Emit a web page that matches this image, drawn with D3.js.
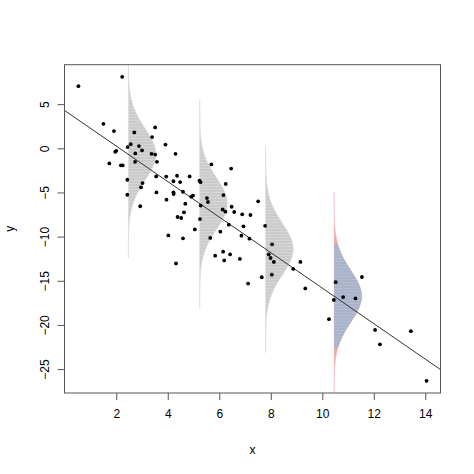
<!DOCTYPE html>
<html>
<head>
<meta charset="utf-8">
<script src="https://cdn.jsdelivr.net/npm/d3@7"></script>
<style>
  html, body { margin: 0; padding: 0; background: #fff; }
  svg { display: block; font-family: "Liberation Sans", Arial, sans-serif; }
</style>
</head>
<body>
<svg id="chart" width="474" height="474"></svg>
<script>
// ---- data ----
const pointX = [0.53,2.23,1.50,1.91,2.00,1.96,1.73,2.18,2.25,2.44,2.56,2.70,2.88,3.00,2.74,2.73,3.51,3.39,3.37,3.51,3.58,2.43,2.43,3.02,2.96,2.93,3.91,4.30,3.55,3.56,3.94,4.36,4.22,4.48,4.85,4.22,4.23,4.59,4.91,4.98,3.95,4.68,4.38,4.52,4.63,5.05,4.02,4.59,4.32,5.23,5.27,5.69,6.46,5.52,5.56,5.28,5.25,6.25,6.16,6.13,6.24,6.48,6.58,6.89,7.21,7.51,6.37,6.94,6.04,5.65,6.86,7.17,5.84,6.15,6.42,6.19,6.80,7.12,7.78,7.65,8.05,7.92,7.99,8.12,8.04,8.87,9.15,9.34,10.26,10.52,10.45,10.81,11.29,11.54,12.05,12.24,13.44,14.05];
const pointY = [7.03,8.09,2.77,1.95,-0.28,-0.40,-1.71,-1.93,-1.93,0.14,0.47,1.80,0.25,-0.24,-0.58,-1.53,2.36,1.27,-0.62,-0.71,-1.53,-3.56,-5.26,-3.94,-4.42,-6.56,0.42,-0.62,-3.18,-4.99,-3.20,-3.11,-3.73,-3.82,-3.18,-4.98,-5.18,-4.92,-5.48,-5.35,-5.82,-6.28,-7.78,-7.89,-7.25,-9.19,-9.87,-10.19,-13.04,-3.65,-3.84,-1.82,-2.30,-5.63,-6.08,-6.48,-8.01,-4.03,-5.29,-6.93,-7.18,-6.62,-7.21,-7.47,-7.55,-6.00,-8.65,-8.83,-9.44,-10.15,-9.89,-10.23,-12.16,-11.70,-12.02,-12.70,-12.53,-15.32,-8.78,-14.60,-10.87,-12.02,-12.42,-12.87,-14.31,-13.66,-12.87,-15.87,-19.35,-15.16,-17.17,-16.85,-17.00,-14.57,-20.56,-22.20,-20.71,-26.33];
const lineIntercept = 4.27;
const lineSlope = -2.01;
const residualSD = 2.94;
const densityX = [2.47, 5.24, 7.80, 10.46];
const densityKind = ["gray", "gray", "gray", "highlight"];
const densityPeakWidth = 1.07;   // x units at the density peak
const xTicks = [2, 4, 6, 8, 10, 12, 14];
const yTicks = [5, 0, -5, -10, -15, -20, -25];
const xLabel = "x";
const yLabel = "y";

// ---- layout ----
const W = 474, H = 474;
const plot = { left: 64.5, right: 440.5, top: 64.7, bottom: 393 };

function padded(ext) {
  const r = ext[1] - ext[0];
  return [ext[0] - 0.04 * r, ext[1] + 0.04 * r];
}
const x = d3.scaleLinear().domain(padded(d3.extent(pointX))).range([plot.left, plot.right]);
const y = d3.scaleLinear().domain(padded(d3.extent(pointY))).range([plot.bottom, plot.top]);

const svg = d3.select("#chart");
svg.append("rect").attr("width", W).attr("height", H).attr("fill", "#fff");

const defs = svg.append("defs");
defs.append("clipPath").attr("id", "plotClip")
  .append("rect").attr("x", plot.left).attr("y", plot.top)
  .attr("width", plot.right - plot.left).attr("height", plot.bottom - plot.top);

function stripe(id, base, light) {
  const p = defs.append("pattern").attr("id", id).attr("patternUnits", "userSpaceOnUse")
    .attr("width", 6).attr("height", 3);
  p.append("rect").attr("width", 6).attr("height", 3).attr("fill", base);
  p.append("rect").attr("width", 6).attr("height", 1).attr("fill", light);
}
stripe("grayStripe", "#cbcbcb", "#d6d6d6");
stripe("blueStripe", "#a9b4cb", "#b3bcd1");

const g = svg.append("g").attr("clip-path", "url(#plotClip)");

// ---- densities ----
function pdf(v, mu, sd) {
  return Math.exp(-0.5 * ((v - mu) / sd) ** 2) / (sd * Math.sqrt(2 * Math.PI));
}
const peak = pdf(0, 0, residualSD);
function densityPath(x0, mu, lo, hi) {
  const n = 200, pts = [];
  for (let i = 0; i <= n; i++) {
    const v = lo + (hi - lo) * i / n;
    pts.push([x(x0 + densityPeakWidth * pdf(v, mu, residualSD) / peak), y(v)]);
  }
  pts.push([x(x0), y(hi)]);
  pts.push([x(x0), y(lo)]);
  return d3.line()(pts) + "Z";
}
densityX.forEach((x0, i) => {
  const mu = lineIntercept + lineSlope * x0;
  const lo = mu - 4 * residualSD, hi = mu + 4 * residualSD;
  if (densityKind[i] === "gray") {
    g.append("path").attr("d", densityPath(x0, mu, lo, hi))
      .attr("fill", "url(#grayStripe)").attr("stroke", "#dadada").attr("stroke-width", 0.6);
  } else {
    g.append("path").attr("d", densityPath(x0, mu, lo, hi))
      .attr("fill", "#f6a0a8").attr("stroke", "#f9bcc1").attr("stroke-width", 0.6);
    g.append("path").attr("d", densityPath(x0, mu, mu - 2 * residualSD, mu + 2 * residualSD))
      .attr("fill", "url(#blueStripe)").attr("stroke", "none");
  }
});

// ---- regression line ----
const xd = x.domain();
g.append("line")
  .attr("x1", x(xd[0])).attr("y1", y(lineIntercept + lineSlope * xd[0]))
  .attr("x2", x(xd[1])).attr("y2", y(lineIntercept + lineSlope * xd[1]))
  .attr("stroke", "#333").attr("stroke-width", 1);

// ---- points ----
g.selectAll("circle.pt").data(pointX.map((v, i) => [v, pointY[i]]))
  .join("circle").attr("class", "pt")
  .attr("cx", d => x(d[0])).attr("cy", d => y(d[1])).attr("r", 1.9).attr("fill", "#000");

// ---- box ----
svg.append("rect").attr("x", plot.left).attr("y", plot.top)
  .attr("width", plot.right - plot.left).attr("height", plot.bottom - plot.top)
  .attr("fill", "none").attr("stroke", "#555").attr("stroke-width", 1);

// ---- axes ----
const xAxis = d3.axisBottom(x).tickValues(xTicks).tickSize(7).tickPadding(9).tickFormat(d3.format("d"));
const xg = svg.append("g").attr("transform", `translate(0,${plot.bottom})`).call(xAxis);
xg.select(".domain").remove();
xg.selectAll(".tick line").attr("stroke", "#555");
xg.selectAll("text").attr("font-size", 12).attr("fill", "#000")
  .attr("font-family", "Liberation Sans, Arial, sans-serif");

const yAxis = d3.axisLeft(y).tickValues(yTicks).tickSize(7).tickFormat(d3.format("d"));
const yg = svg.append("g").attr("transform", `translate(${plot.left},0)`).call(yAxis);
yg.select(".domain").remove();
yg.selectAll(".tick line").attr("stroke", "#555");
yg.selectAll("text")
  .attr("font-size", 12).attr("fill", "#000")
  .attr("font-family", "Liberation Sans, Arial, sans-serif")
  .attr("x", null).attr("dy", null)
  .attr("text-anchor", "middle")
  .attr("transform", "translate(-20,0) rotate(-90)")
  .attr("dy", "0.35em");

svg.append("text").text(xLabel)
  .attr("x", (plot.left + plot.right) / 2).attr("y", 454)
  .attr("text-anchor", "middle").attr("font-size", 12).attr("fill", "#000");
svg.append("text").text(yLabel)
  .attr("transform", `translate(14,${(plot.top + plot.bottom) / 2}) rotate(-90)`)
  .attr("text-anchor", "middle").attr("font-size", 12).attr("fill", "#000");
</script>
</body>
</html>
